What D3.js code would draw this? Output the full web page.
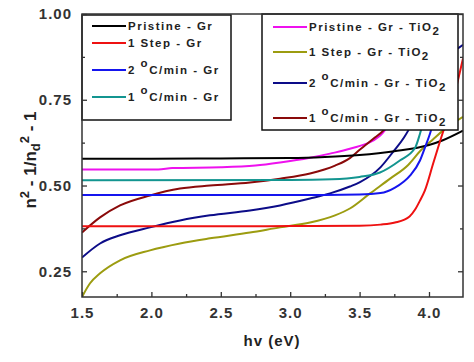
<!DOCTYPE html>
<html>
<head>
<meta charset="utf-8">
<script src="https://cdn.jsdelivr.net/npm/d3@7"></script>
<style>
  body { margin: 0; background: #fff; }
  svg text { font-family: "Liberation Sans", Arial, sans-serif; font-weight: bold; }
  .tick text { fill: #333; font-size: 15px; letter-spacing: 1px; }
  .legend text { fill: #222; font-size: 11.5px; letter-spacing: 1.5px; }
</style>
</head>
<body>
<div id="chart"></div>
<script>
// ticks
const xTicks = [1.5, 2.0, 2.5, 3.0, 3.5, 4.0];
const xMinor = [1.75, 2.25, 2.75, 3.25, 3.75];
const yTicks = [0.25, 0.5, 0.75, 1.0];
const yMinor = [0.375, 0.625, 0.875];

// series (hv in eV, value)
const hvPristineGr = [1.5, 2.0, 2.5, 3.0, 3.25, 3.5, 3.75, 4.0, 4.1, 4.245];
const valPristineGr = [0.578, 0.578, 0.579, 0.580, 0.583, 0.589, 0.600, 0.618, 0.632, 0.660];

const hvOneStepGr = [1.5, 2.0, 2.5, 3.0, 3.5, 3.65, 3.755, 3.86, 3.9, 3.935, 3.97, 4.03, 4.08, 4.12, 4.18, 4.245];
const valOneStepGr = [0.381, 0.381, 0.381, 0.382, 0.383, 0.386, 0.392, 0.41, 0.43, 0.456, 0.485, 0.564, 0.63, 0.68, 0.76, 0.87];

const hv2CGr = [1.5, 3.0, 3.5, 3.65, 3.755, 3.863, 3.935, 3.97, 4.007, 4.1, 4.2];
const val2CGr = [0.472, 0.472, 0.474, 0.478, 0.494, 0.529, 0.573, 0.61, 0.651, 0.80, 1.02];

const hv1CGr = [1.5, 3.0, 3.3, 3.5, 3.647, 3.79, 3.9, 3.935, 3.98, 4.05, 4.12];
const val1CGr = [0.515, 0.516, 0.518, 0.525, 0.538, 0.573, 0.61, 0.651, 0.72, 0.85, 1.02];

const hvPristineTi = [1.5, 2.05, 2.15, 2.5, 2.75, 2.927, 3.143, 3.287, 3.43, 3.647, 3.75, 3.85, 3.95, 4.1];
const valPristineTi = [0.547, 0.547, 0.551, 0.553, 0.558, 0.567, 0.581, 0.593, 0.607, 0.645, 0.70, 0.77, 0.86, 1.02];

const hvOneStepTi = [1.5, 1.558, 1.63, 1.774, 1.99, 2.206, 2.422, 2.71, 2.927, 3.143, 3.323, 3.43, 3.575, 3.72, 3.85, 3.935, 4.03, 4.1, 4.245];
const valOneStepTi = [0.175, 0.215, 0.244, 0.282, 0.311, 0.331, 0.346, 0.363, 0.378, 0.392, 0.413, 0.433, 0.477, 0.52, 0.56, 0.60, 0.635, 0.66, 0.70];

const hv2CTi = [1.5, 1.63, 1.774, 1.99, 2.206, 2.422, 2.71, 2.927, 3.143, 3.287, 3.43, 3.503, 3.65, 3.745, 3.82, 3.85, 3.95, 4.05, 4.245];
const val2CTi = [0.29, 0.331, 0.355, 0.378, 0.398, 0.413, 0.427, 0.442, 0.462, 0.477, 0.497, 0.51, 0.553, 0.60, 0.64, 0.66, 0.75, 0.83, 0.91];

const hv1CTi = [1.5, 1.63, 1.774, 1.99, 2.206, 2.422, 2.71, 2.927, 3.143, 3.323, 3.43, 3.503, 3.61, 3.67, 3.75, 3.85, 3.95, 4.05];
const val1CTi = [0.363, 0.407, 0.442, 0.471, 0.491, 0.50, 0.509, 0.52, 0.535, 0.558, 0.58, 0.605, 0.64, 0.66, 0.71, 0.79, 0.89, 1.02];

// label pieces: [text, "sup" | "sub" | ""]
const seriesLeft = [
  { hv: hvPristineGr, val: valPristineGr, color: "#000000", label: [["Pristine - Gr", ""]] },
  { hv: hvOneStepGr, val: valOneStepGr, color: "#ee1111", label: [["1 Step - Gr", ""]] },
  { hv: hv2CGr, val: val2CGr, color: "#1515ee", label: [["2 ", ""], ["o", "sup"], ["C/min - Gr", ""]] },
  { hv: hv1CGr, val: val1CGr, color: "#139590", label: [["1 ", ""], ["o", "sup"], ["C/min - Gr", ""]] }
];
const seriesRight = [
  { hv: hvPristineTi, val: valPristineTi, color: "#ee11ee", label: [["Pristine - Gr - TiO", ""], ["2", "sub"]] },
  { hv: hvOneStepTi, val: valOneStepTi, color: "#9c9c10", label: [["1 Step - Gr - TiO", ""], ["2", "sub"]] },
  { hv: hv2CTi, val: val2CTi, color: "#0c0c88", label: [["2 ", ""], ["o", "sup"], ["C/min - Gr - TiO", ""], ["2", "sub"]] },
  { hv: hv1CTi, val: val1CTi, color: "#8a0a0a", label: [["1 ", ""], ["o", "sup"], ["C/min - Gr - TiO", ""], ["2", "sub"]] }
];

const width = 474, height = 362;
const margin = { top: 14, right: 11, bottom: 65, left: 82 };
const innerW = width - margin.left - margin.right;
const innerH = height - margin.top - margin.bottom;

const svg = d3.select("#chart").append("svg")
  .attr("width", width)
  .attr("height", height);

const g = svg.append("g").attr("transform", `translate(${margin.left},${margin.top})`);

const x = d3.scaleLinear().domain([1.5, 4.245]).range([0, innerW]);
const y = d3.scaleLinear().domain([0.175, 1.0]).range([innerH, 0]);

g.append("clipPath").attr("id", "clip")
  .append("rect").attr("width", innerW).attr("height", innerH);

const line = d3.line()
  .x((d) => x(d[0]))
  .y((d) => y(d[1]))
  .curve(d3.curveMonotoneX);

const plot = g.append("g").attr("clip-path", "url(#clip)");
// draw TiO2 series first, then Gr series on top
seriesRight.concat(seriesLeft).forEach((s) => {
  plot.append("path")
    .datum(d3.zip(s.hv, s.val))
    .attr("fill", "none")
    .attr("stroke", s.color)
    .attr("stroke-width", 2)
    .attr("d", line);
});

// legends
function drawLegend(items, box, rowY, lineX0, lineX1) {
  const lg = g.append("g").attr("class", "legend");
  lg.append("rect")
    .attr("x", box.x - margin.left).attr("y", box.y - margin.top)
    .attr("width", box.w).attr("height", box.h)
    .attr("fill", "#fff").attr("stroke", "#111").attr("stroke-width", 1.5);
  items.forEach((s, i) => {
    const yy = rowY[i] - margin.top;
    lg.append("line")
      .attr("x1", lineX0 - margin.left).attr("x2", lineX1 - margin.left)
      .attr("y1", yy).attr("y2", yy)
      .attr("stroke", s.color).attr("stroke-width", 2);
    const t = lg.append("text")
      .attr("x", lineX1 + 2 - margin.left)
      .attr("y", yy + 4);
    let shift = 0;
    s.label.forEach(([txt, kind]) => {
      const sp = t.append("tspan").text(txt);
      const want = kind === "sup" ? -7 : kind === "sub" ? 4 : 0;
      if (want !== shift) sp.attr("dy", want - shift);
      shift = want;
    });
  });
}

drawLegend(seriesLeft, { x: 82, y: 15, w: 149, h: 105 }, [26, 43, 70, 97], 92, 126);
drawLegend(seriesRight, { x: 262, y: 14, w: 196, h: 116 }, [27, 52, 83, 118], 273, 307);

// axes
const axisColor = "#333";
function styleAxis(sel) {
  sel.select(".domain").remove();
  sel.selectAll(".tick line").attr("stroke", axisColor).attr("stroke-width", 1.3);
}

g.append("g").attr("transform", `translate(0,${innerH})`)
  .call(d3.axisBottom(x).tickValues(xTicks).tickFormat(d3.format(".1f")).tickSizeInner(-5).tickPadding(10))
  .call(styleAxis);
g.append("g").attr("transform", `translate(0,${innerH})`)
  .call(d3.axisBottom(x).tickValues(xMinor).tickFormat("").tickSizeInner(-3))
  .call(styleAxis);

g.append("g")
  .call(d3.axisLeft(y).tickValues(yTicks).tickFormat(d3.format(".2f")).tickSizeInner(-5).tickPadding(10))
  .call(styleAxis);
g.append("g")
  .call(d3.axisLeft(y).tickValues(yMinor).tickFormat("").tickSizeInner(-3))
  .call(styleAxis);

g.append("g").attr("transform", `translate(${innerW},0)`)
  .call(d3.axisRight(y).tickValues(yTicks).tickFormat("").tickSizeInner(-5))
  .call(styleAxis);
g.append("g").attr("transform", `translate(${innerW},0)`)
  .call(d3.axisRight(y).tickValues(yMinor).tickFormat("").tickSizeInner(-3))
  .call(styleAxis);

// frame
g.append("rect")
  .attr("width", innerW).attr("height", innerH)
  .attr("fill", "none").attr("stroke", axisColor).attr("stroke-width", 1.5);

// axis titles
svg.append("text")
  .attr("x", 272).attr("y", 346)
  .attr("text-anchor", "middle")
  .attr("font-size", 15).attr("letter-spacing", 1).attr("fill", "#222")
  .text("hv (eV)");

const yl = svg.append("text")
  .attr("transform", "translate(36,160) rotate(-90)")
  .attr("text-anchor", "middle")
  .attr("font-size", 17).attr("fill", "#222");
yl.append("tspan").text("n");
yl.append("tspan").attr("dy", -7).attr("font-size", 13).text("2");
yl.append("tspan").attr("dy", 7).text(" - 1/n");
yl.append("tspan").attr("dy", 4).attr("font-size", 13).text("d");
yl.append("tspan").attr("dy", -11).attr("font-size", 13).text("2");
yl.append("tspan").attr("dy", 7).text(" - 1");
</script>
</body>
</html>
